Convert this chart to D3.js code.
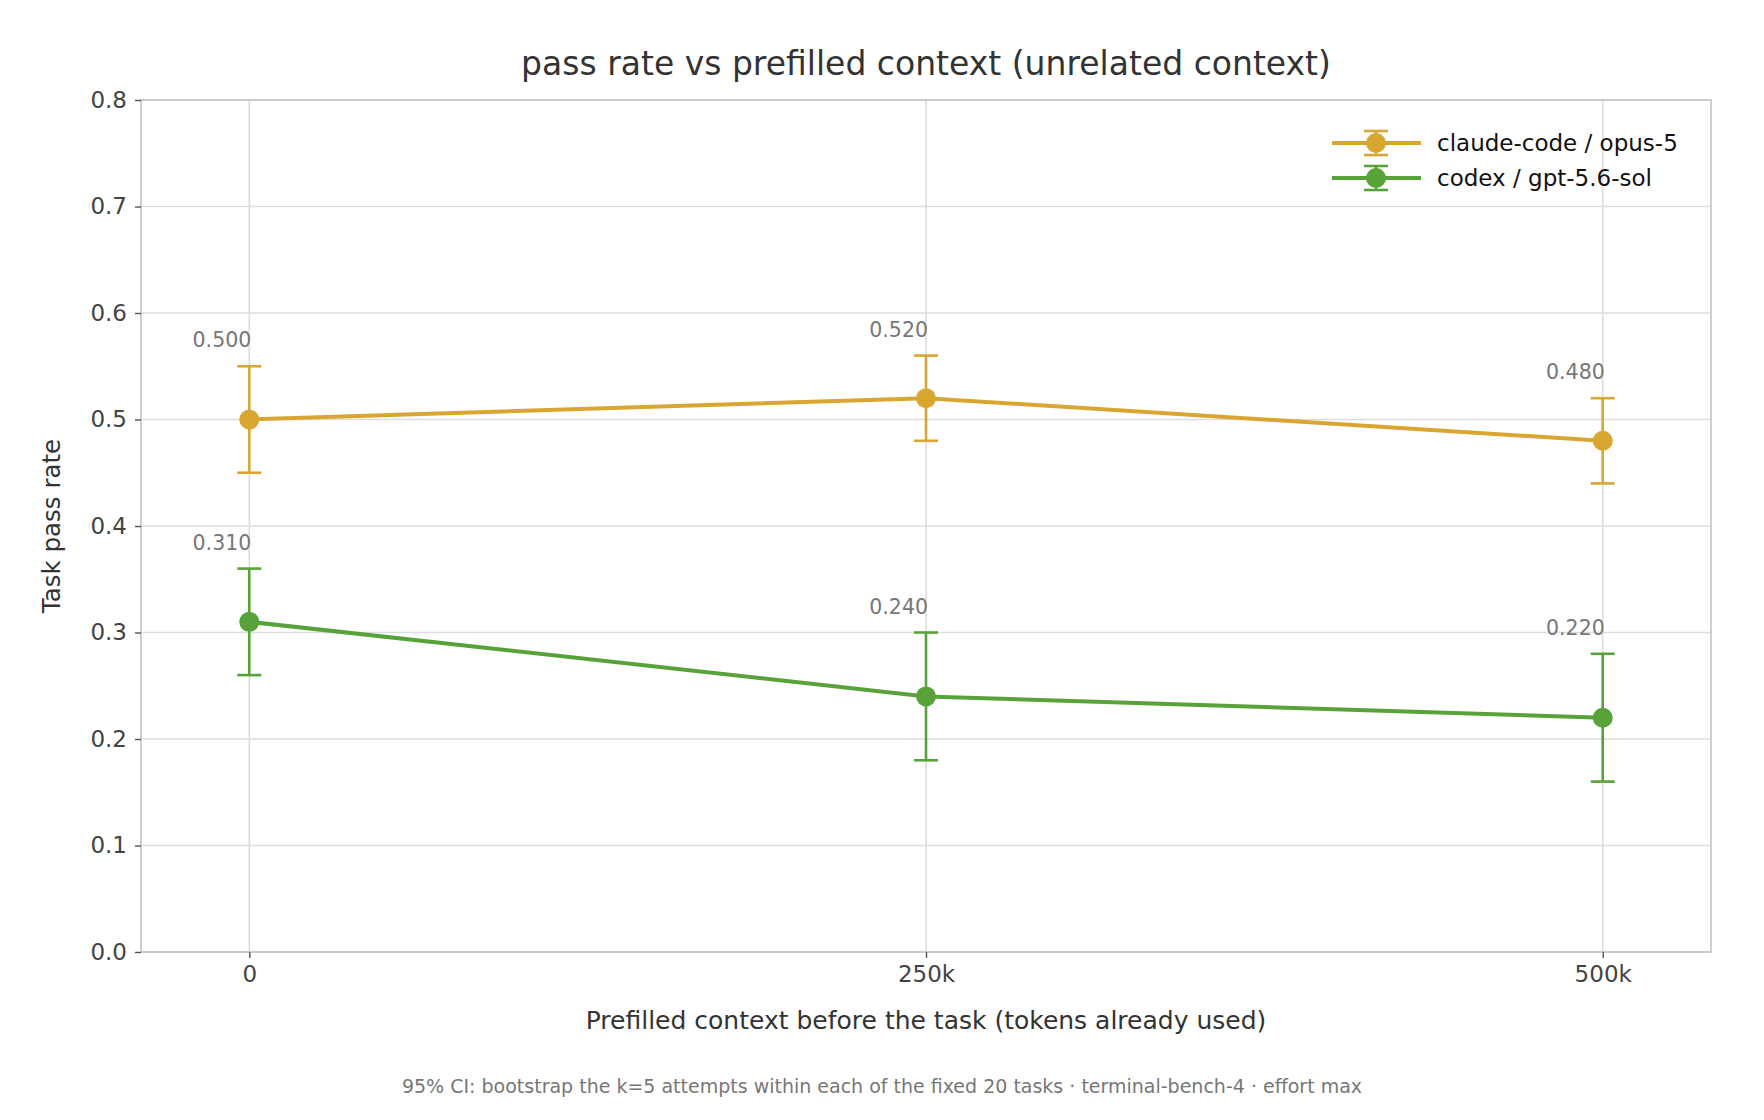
<!DOCTYPE html>
<html>
<head>
<meta charset="utf-8">
<script src="https://cdn.jsdelivr.net/npm/d3@7"></script>
<style>
  body { margin: 0; background: #fff; }
  text { font-family: "DejaVu Sans", sans-serif; }
</style>
</head>
<body>
<svg id="chart" width="1764" height="1120"></svg>
<script>
// data
const contexts = [0, 250000, 500000];
const tickLabels = ["0", "250k", "500k"];
const seriesNames = ["claude-code / opus-5", "codex / gpt-5.6-sol"];
const seriesColors = ["#daa632", "#58a23a"];
const claudeRate = [0.50, 0.52, 0.48];
const claudeLo = [0.45, 0.48, 0.44];
const claudeHi = [0.55, 0.56, 0.52];
const codexRate = [0.31, 0.24, 0.22];
const codexLo = [0.26, 0.18, 0.16];
const codexHi = [0.36, 0.30, 0.28];
const yTicks = [0, 0.1, 0.2, 0.3, 0.4, 0.5, 0.6, 0.7, 0.8];

const series = [
  { name: seriesNames[0], color: seriesColors[0], rate: claudeRate, lo: claudeLo, hi: claudeHi },
  { name: seriesNames[1], color: seriesColors[1], rate: codexRate, lo: codexLo, hi: codexHi }
];

const svg = d3.select("#chart");
const plot = { left: 141, right: 1711, top: 100, bottom: 952 };

const x = d3.scaleLinear().domain([-40000, 540000]).range([plot.left, plot.right]);
const y = d3.scaleLinear().domain([0, 0.8]).range([plot.bottom, plot.top]);

// grid
svg.append("g").selectAll("line").data(yTicks).join("line")
  .attr("x1", plot.left).attr("x2", plot.right)
  .attr("y1", d => y(d)).attr("y2", d => y(d))
  .attr("stroke", "#dddddd").attr("stroke-width", 1.6);
svg.append("g").selectAll("line").data(contexts).join("line")
  .attr("x1", d => x(d)).attr("x2", d => x(d))
  .attr("y1", plot.top).attr("y2", plot.bottom)
  .attr("stroke", "#dddddd").attr("stroke-width", 1.6);

// frame
svg.append("rect")
  .attr("x", plot.left).attr("y", plot.top)
  .attr("width", plot.right - plot.left).attr("height", plot.bottom - plot.top)
  .attr("fill", "none").attr("stroke", "#c4c4c4").attr("stroke-width", 1.6);

// axes
const yAxis = svg.append("g")
  .attr("transform", `translate(${plot.left},0)`)
  .call(d3.axisLeft(y).tickValues(yTicks).tickFormat(d3.format(".1f")).tickSize(6).tickPadding(8));
const xAxis = svg.append("g")
  .attr("transform", `translate(0,${plot.bottom})`)
  .call(d3.axisBottom(x).tickValues(contexts).tickFormat((d, i) => tickLabels[i]).tickSize(6).tickPadding(8));
[xAxis, yAxis].forEach(ax => {
  ax.select(".domain").remove();
  ax.selectAll(".tick line").attr("stroke", "#555").attr("stroke-width", 1.4);
  ax.selectAll(".tick text").attr("fill", "#444").style("font-size", "23px");
});

// series
series.forEach(s => {
  const g = svg.append("g");
  const pts = contexts.map((c, i) => ({ c, v: s.rate[i], lo: s.lo[i], hi: s.hi[i] }));

  g.selectAll("line.err").data(pts).join("line")
    .attr("class", "err")
    .attr("x1", d => x(d.c)).attr("x2", d => x(d.c))
    .attr("y1", d => y(d.lo)).attr("y2", d => y(d.hi))
    .attr("stroke", s.color).attr("stroke-width", 2.6);
  ["lo", "hi"].forEach(k => {
    g.selectAll("line.cap-" + k).data(pts).join("line")
      .attr("class", "cap-" + k)
      .attr("x1", d => x(d.c) - 12).attr("x2", d => x(d.c) + 12)
      .attr("y1", d => y(d[k])).attr("y2", d => y(d[k]))
      .attr("stroke", s.color).attr("stroke-width", 2.6);
  });

  g.append("path").datum(pts)
    .attr("fill", "none").attr("stroke", s.color).attr("stroke-width", 4)
    .attr("d", d3.line().x(d => x(d.c)).y(d => y(d.v)));

  g.selectAll("circle").data(pts).join("circle")
    .attr("cx", d => x(d.c)).attr("cy", d => y(d.v)).attr("r", 10)
    .attr("fill", s.color);

  g.selectAll("text").data(pts).join("text")
    .attr("x", d => x(d.c) + 2).attr("y", d => y(d.hi) - 19)
    .attr("text-anchor", "end")
    .attr("fill", "#777").style("font-size", "20.5px")
    .text(d => d.v.toFixed(3));
});

// legend
const legend = svg.append("g");
series.forEach((s, i) => {
  const ly = 143 + i * 35;
  const row = legend.append("g").attr("transform", `translate(0,${ly})`);
  row.append("line").attr("x1", 1332).attr("x2", 1421).attr("y1", 0).attr("y2", 0)
    .attr("stroke", s.color).attr("stroke-width", 4);
  row.append("line").attr("x1", 1376).attr("x2", 1376).attr("y1", -12).attr("y2", 12)
    .attr("stroke", s.color).attr("stroke-width", 2.6);
  [-12, 12].forEach(dy => row.append("line")
    .attr("x1", 1364).attr("x2", 1388).attr("y1", dy).attr("y2", dy)
    .attr("stroke", s.color).attr("stroke-width", 2.6));
  row.append("circle").attr("cx", 1376).attr("cy", 0).attr("r", 10).attr("fill", s.color);
  row.append("text").attr("x", 1437).attr("y", 0).attr("dy", "0.35em")
    .attr("fill", "#111").style("font-size", "23px").text(s.name);
});

// titles
const midX = (plot.left + plot.right) / 2;
svg.append("text").attr("x", midX).attr("y", 75).attr("text-anchor", "middle")
  .attr("fill", "#333").style("font-size", "33px")
  .text("pass rate vs prefilled context (unrelated context)");
svg.append("text").attr("x", midX).attr("y", 1029).attr("text-anchor", "middle")
  .attr("fill", "#333").style("font-size", "25px")
  .text("Prefilled context before the task (tokens already used)");
svg.append("text")
  .attr("transform", `translate(60,${(plot.top + plot.bottom) / 2}) rotate(-90)`)
  .attr("text-anchor", "middle").attr("fill", "#333").style("font-size", "24.5px")
  .text("Task pass rate");
svg.append("text").attr("x", 882).attr("y", 1093).attr("text-anchor", "middle")
  .attr("fill", "#777").style("font-size", "19px")
  .text("95% CI: bootstrap the k=5 attempts within each of the fixed 20 tasks · terminal-bench-4 · effort max");
</script>
</body>
</html>
